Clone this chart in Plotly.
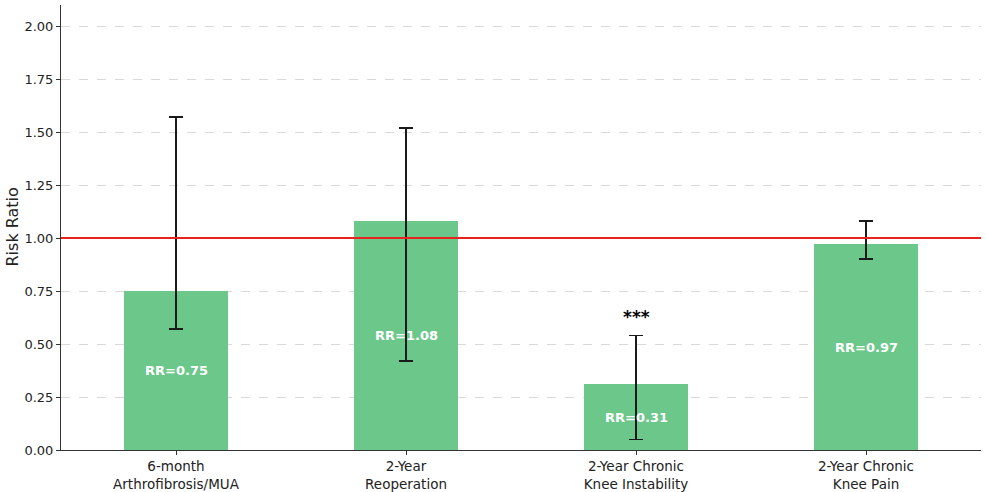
import plotly.graph_objects as go

outcomes = ["6-month<br>Arthrofibrosis/MUA", "2-Year<br>Reoperation",
            "2-Year Chronic<br>Knee Instability", "2-Year Chronic<br>Knee Pain"]
rr = [0.75, 1.08, 0.31, 0.97]
ci_low = [0.57, 0.42, 0.05, 0.90]
ci_high = [1.57, 1.52, 0.54, 1.08]
significant = [False, False, True, False]

FONT = "DejaVu Sans"
BAR_COLOR = "#6cc78b"

x = list(range(len(outcomes)))

fig = go.Figure()

fig.add_trace(go.Bar(
    x=x, y=rr, width=0.45,
    marker=dict(color=BAR_COLOR, line=dict(width=0)),
    error_y=dict(type="data", symmetric=False,
                 array=[h - v for h, v in zip(ci_high, rr)],
                 arrayminus=[v - l for l, v in zip(ci_low, rr)],
                 color="#1a1a1a", thickness=1.8, width=7),
    showlegend=False,
))

# reference line at RR = 1
fig.add_shape(type="line", xref="paper", x0=0, x1=1, y0=1, y1=1,
              line=dict(color="#e8231f", width=2))

# RR labels inside bars
for xi, v in zip(x, rr):
    fig.add_annotation(x=xi, y=v / 2, text=f"<b>RR={v:.2f}</b>", showarrow=False,
                       font=dict(family=FONT, size=13, color="white"))

for xi, hi, sig in zip(x, ci_high, significant):
    if sig:
        fig.add_annotation(x=xi, y=hi + 0.03, text="<b>***</b>", showarrow=False,
                           yanchor="bottom", font=dict(family=FONT, size=17, color="black"))

# y axis title as annotation so the plot area stays fixed
fig.add_annotation(xref="paper", yref="paper", x=0, y=0.5, xshift=-49,
                   text="Risk Ratio", textangle=-90, showarrow=False,
                   xanchor="center", yanchor="middle",
                   font=dict(family=FONT, size=16, color="#222222"))

fig.update_layout(
    width=986, height=492,
    margin=dict(l=61, r=5, t=5, b=42),
    plot_bgcolor="white", paper_bgcolor="white",
    font=dict(family=FONT, size=13, color="#222222"),
    bargap=0,
)
fig.update_xaxes(range=[-0.5, 3.5], tickvals=x, ticktext=outcomes, automargin=False,
                 showline=True, linecolor="#333333", linewidth=1,
                 ticks="outside", ticklen=4, tickcolor="#333333",
                 showgrid=False, zeroline=False, tickfont=dict(size=13.5))
fig.update_yaxes(range=[0, 2.1], tickvals=[0, 0.25, 0.5, 0.75, 1.0, 1.25, 1.5, 1.75, 2.0],
                 tickformat=".2f", showline=True, linecolor="#333333", linewidth=1,
                 ticks="outside", ticklen=4, tickcolor="#333333", automargin=False,
                 showgrid=True, gridcolor="#d9d9d9", griddash="dash", gridwidth=1,
                 zeroline=False, tickfont=dict(size=13))

# drop the browser's default body margin so the figure sits at the page corner
fig.write_html("out.html", config={"displayModeBar": False},
               post_script="document.body.style.margin='0';document.body.style.overflow='hidden';")
